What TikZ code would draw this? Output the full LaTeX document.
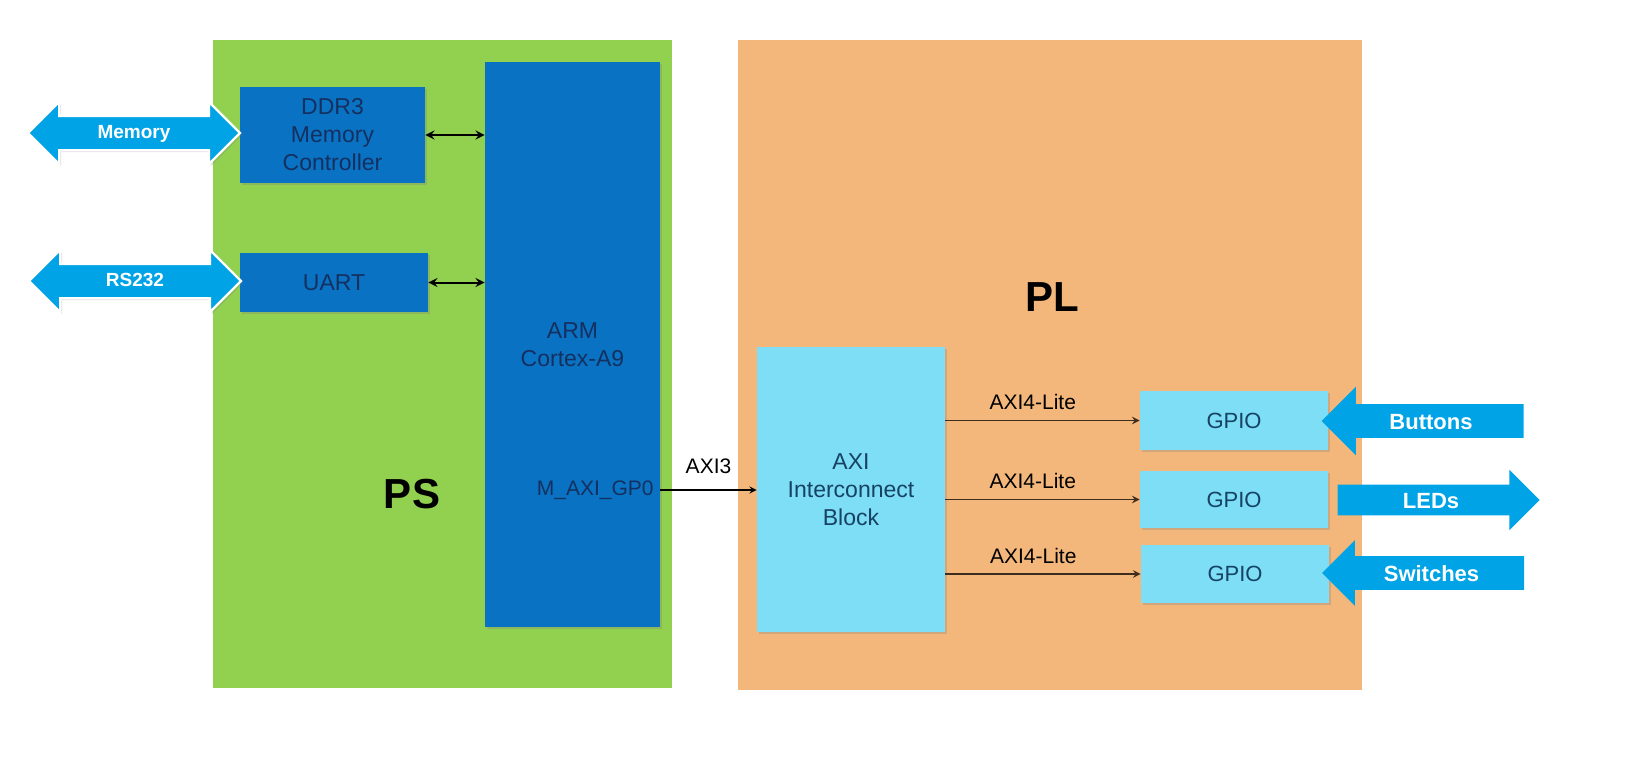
\documentclass[tikz,border=0pt]{standalone}
\usepackage{fontspec}
\setmainfont{Liberation Sans}
\usetikzlibrary{shapes,shapes.arrows,arrows,positioning,shadows,calc}
\definecolor{psgreen}{RGB}{146,208,80}
\definecolor{plorange}{RGB}{243,183,123}
\definecolor{armblue}{RGB}{10,114,194}
\definecolor{axicyan}{RGB}{125,222,246}
\definecolor{iocyan}{RGB}{0,164,230}
\definecolor{armtext}{RGB}{20,48,96}
\definecolor{axitext}{RGB}{22,66,100}
\definecolor{wire}{RGB}{60,45,30}
\tikzset{blk/.style={rectangle, align=center, font=\fontsize{11.5}{14}\selectfont,
  drop shadow={shadow xshift=1pt, shadow yshift=-1pt, opacity=0.3}}}
\tikzstyle{psblk}=[blk, fill=armblue, text=armtext]
\tikzstyle{plblk}=[blk, fill=axicyan, text=axitext]
\tikzstyle{io}=[fill=iocyan, text=white, font=\fontsize{11}{13}\selectfont\bfseries,
  text height=8pt, text depth=0pt, inner ysep=4.25pt, minimum height=101pt]
\tikzstyle{ext}=[io, double arrow, draw=white, line width=1.2pt, minimum height=106pt, minimum width=30pt,
  double arrow head extend=7pt, font=\fontsize{9.5}{11}\selectfont\bfseries, text height=7pt, text depth=2pt,
  inner ysep=3.5pt, drop shadow={shadow xshift=1pt, shadow yshift=-1pt, opacity=0.25}]
\tikzstyle{lbl}=[font=\fontsize{10.5}{12}\selectfont, inner sep=1pt]

\begin{document}
\begin{tikzpicture}[>=stealth, x=0.5pt, y=-0.5pt]
\useasboundingbox (0,0) rectangle (1644,761);
% panels
\fill[psgreen] (213,40) rectangle (672,688);
\fill[plorange] (738,40) rectangle (1362,690);
\node[font=\fontsize{21}{24}\selectfont\bfseries] (PSl) at (412,494) {PS};
\node[font=\fontsize{21}{24}\selectfont\bfseries] (PLl) at (1052,297) {PL};
% PS side
\node[psblk, minimum width=92.5pt, minimum height=48pt] (DDR) at (332.5,135) {DDR3\\Memory\\Controller};
\node[psblk, minimum width=94pt, minimum height=29.5pt] (UART) at (334,282.5) {UART};
\node[psblk, minimum width=87.5pt, minimum height=282.5pt] (ARM) at (572.5,344.5) {ARM\\Cortex-A9};
\node[lbl, anchor=east, text=armtext] (GP) at (656,490) {M\_AXI\_GP0};
\node[ext] (Mem) at (134,133) {Memory};
\node[ext] (RS) at (135,281) {RS232};
% PL side
\node[plblk, minimum width=94pt, minimum height=142.5pt] (AXI) at (851,489.5) {AXI\\Interconnect\\Block};
\node[plblk, minimum width=94pt, minimum height=29.5pt, font=\fontsize{11}{13}\selectfont] (G1) at (1234,420.5) {GPIO};
\node[plblk, minimum width=94pt, minimum height=28.5pt, font=\fontsize{11}{13}\selectfont] (G2) at (1234,499.5) {GPIO};
\node[plblk, minimum width=94pt, minimum height=29pt, font=\fontsize{11}{13}\selectfont] (G3) at (1235,574) {GPIO};
\node[io, single arrow, shape border rotate=180, minimum width=34pt, single arrow head extend=8.75pt] (Btn) at (1431,421) {Buttons};
\node[io, single arrow, minimum width=30pt, inner ysep=3.5pt, single arrow head extend=7.5pt] (Led) at (1431,500) {LEDs};
\node[io, single arrow, shape border rotate=180, minimum width=32.5pt, single arrow head extend=8pt] (Sw) at (1431.5,573) {Switches};
% connectors
\draw[<->, line width=1pt] (DDR.east) -- (DDR.east -| ARM.west);
\draw[<->, line width=1pt] (UART.east) -- (UART.east -| ARM.west);
\draw[->, line width=0.6pt] (ARM.east |- GP) -- node[lbl, above=7pt] {AXI3} (AXI.west |- GP);
\foreach \g in {G1,G2,G3}
  \draw[->, wire, line width=0.7pt] (AXI.east |- \g) -- node[lbl, text=black, above=4pt, pos=0.45] {AXI4-Lite} (\g.west);
\end{tikzpicture}
\end{document}
